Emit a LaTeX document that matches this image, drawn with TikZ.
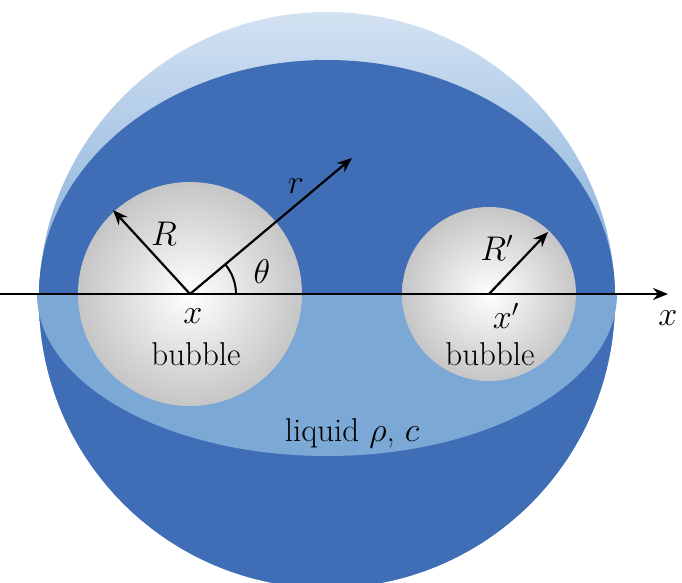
\documentclass[tikz,border=0pt]{standalone}
\usetikzlibrary{arrows.meta}
\definecolor{dk}{HTML}{406EB6}
\definecolor{lt}{HTML}{7CA8D5}
\definecolor{tp}{HTML}{D3E2F2}
\definecolor{md}{HTML}{5A92CC}
\newcommand{\LB}[1]{\scalebox{1.65}{\fontsize{20}{24}\selectfont #1}}
\tikzset{vec/.style={-{Stealth[length=15pt,width=12pt]},line width=2.2pt},
 lab/.style={inner sep=0pt},
 bub/.style={inner color=white,outer color=gray!45}}
\begin{document}
\begin{tikzpicture}[x=1pt,y=-1pt]
\useasboundingbox (0,0) rectangle (682,583);
\begin{scope}
\clip (0,0) rectangle (682,583);
\shade[top color=tp,bottom color=md!80!dk,middle color=md!70!tp] (327,300) circle (288);
\fill[dk] (39,294) arc[x radius=288,y radius=234,start angle=180,end angle=360] -- cycle;
\fill[dk] (39,300) arc[start angle=180,end angle=0,radius=288] -- cycle;
\fill[dk] (39,294) rectangle (615,300);
\fill[lt] (37,294) arc[x radius=290,y radius=162,start angle=180,end angle=0] -- cycle;
\end{scope}
\shade[bub] (190,294) circle (112);
\shade[bub] (489,294) circle (87);
\coordinate (o) at (190,294);
\coordinate (o2) at (489,294);
\coordinate (a0) at (0,294);
\coordinate (a1) at (668,294);
\coordinate (Rt) at (113,210);
\coordinate (rt) at (352,158);
\coordinate (R2t) at (548,232);
\draw[vec] (a0) -- (a1);
\draw[vec] (o) -- (Rt);
\draw[vec] (o) -- (rt);
\draw[vec] (o2) -- (R2t);
\draw[line width=2pt] (236,294) arc[start angle=0,end angle=-40,radius=46];
\node[lab] (lR) at (164,234) {\LB{$R$}};
\node[lab] (lr) at (296,186) {\LB{$r$}};
\node[lab] (lth) at (262,272) {\LB{$\theta$}};
\node[lab] (lx) at (193,316) {\LB{$x$}};
\node[lab] (lb1) at (196,354) {\LB{bubble}};
\node[lab] (lx2) at (506,316) {\LB{$x'$}};
\node[lab] (lR2) at (497,248) {\LB{$R'$}};
\node[lab] (lb2) at (490,354) {\LB{bubble}};
\node[lab] (lxa) at (668,318) {\LB{$x$}};
\node[lab] (liq) at (352,433) {\LB{liquid $\rho$, $c$}};
\end{tikzpicture}
\end{document}
